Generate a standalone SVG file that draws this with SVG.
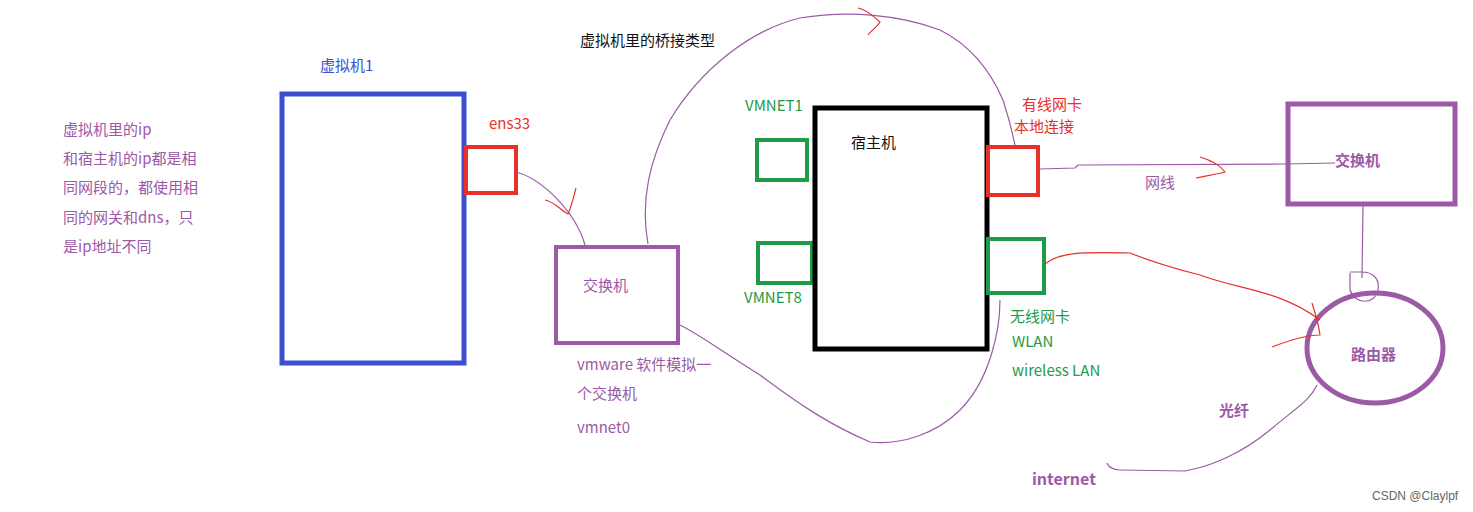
<svg xmlns="http://www.w3.org/2000/svg" width="1473" height="512" viewBox="0 0 1473 512">
<style>
text{font-family:"Noto Sans CJK SC","Noto Sans",sans-serif;font-size:15px}
.p{fill:#9b59a6}.r{fill:#e8302a}.g{fill:#1f9a46}.k{fill:#111}
.pl{fill:none;stroke:#9b59a6;stroke-width:1.2}
.rl{fill:none;stroke:#e8302a;stroke-width:1.2}
</style>
<rect width="1473" height="512" fill="#fff"/>
<text x="63" y="135" class="p">虚拟机里的ip</text>
<text x="63" y="164" class="p">和宿主机的ip都是相</text>
<text x="63" y="193" class="p">同网段的，都使用相</text>
<text x="63" y="223" class="p">同的网关和dns，只</text>
<text x="63" y="252" class="p">是ip地址不同</text>
<text x="320" y="71" style="fill:#3b4fd0">虚拟机1</text>
<text x="580" y="46" class="k">虚拟机里的桥接类型</text>
<g id="vm1"><rect x="282" y="94" width="182" height="269" fill="none" stroke="#3b4fd0" stroke-width="5"/></g>
<g id="ens33"><rect x="466" y="147" width="50" height="46" fill="none" stroke="#e8302a" stroke-width="4"/><text x="489" y="129" class="r">ens33</text></g>
<g id="vswitch"><rect x="556" y="247" width="122" height="96" fill="none" stroke="#9b59a6" stroke-width="4"/><text x="583" y="291" class="p">交换机</text>
<text x="577" y="370" class="p">vmware 软件模拟一</text><text x="577" y="399" class="p">个交换机</text><text x="577" y="433" class="p">vmnet0</text></g>
<g id="vmnet1"><rect x="757" y="140" width="50" height="40" fill="none" stroke="#1f9a46" stroke-width="4"/><text x="745" y="111" class="g">VMNET1</text></g>
<g id="vmnet8"><rect x="758" y="243" width="54" height="40" fill="none" stroke="#1f9a46" stroke-width="4"/><text x="744" y="303" class="g">VMNET8</text></g>
<g id="host"><rect x="815" y="108" width="172" height="241" fill="none" stroke="#000" stroke-width="5"/><text x="851" y="148" class="k">宿主机</text></g>
<g id="wired"><rect x="988" y="147" width="50" height="48" fill="none" stroke="#e8302a" stroke-width="4"/><text x="1022" y="110" class="r">有线网卡</text><text x="1014" y="132" class="r">本地连接</text></g>
<g id="wireless"><rect x="988" y="239" width="56" height="54" fill="none" stroke="#1f9a46" stroke-width="4"/><text x="1010" y="322" class="g">无线网卡</text><text x="1012" y="347" class="g">WLAN</text><text x="1012" y="376" class="g">wireless LAN</text></g>
<g id="switch"><rect x="1288" y="104" width="167" height="100" fill="none" stroke="#9b59a6" stroke-width="5"/><text x="1335" y="166" class="p" style="font-weight:bold">交换机</text></g>
<g id="router"><ellipse cx="1375" cy="348" rx="68" ry="55" fill="none" stroke="#9b59a6" stroke-width="5"/><text x="1351" y="360" class="p" style="font-weight:bold">路由器</text></g>
<text x="1145" y="188" class="p">网线</text>
<text x="1219" y="416" class="p" style="font-weight:bold">光纤</text>
<text x="1032" y="485" class="p" style="font-weight:bold;font-size:16px">internet</text>
<text x="1372" y="500" style="fill:#666;font-size:12px;font-family:'Liberation Sans',sans-serif">CSDN @Claylpf</text>
<g id="connectors">
<path class="pl" d="M516,172 C540,178 575,210 585,245"/>
<path class="rl" d="M545,200 C555,202 560,210 568,214 C572,205 574,195 576,188"/>
<path class="pl" d="M648,244 C640,200 650,160 670,120 C700,70 750,30 800,18 C850,10 900,15 940,30 C970,45 990,70 1003,100 C1008,115 1012,130 1015,145"/>
<path class="rl" d="M858,8 C868,10 875,18 880,22 C876,28 870,32 868,35"/>
<path class="pl" d="M1000,300 C1000,330 990,380 960,410 C935,435 900,445 870,442 C830,425 800,405 760,375 C720,350 700,335 680,325"/>
<path class="pl" d="M1040,169 L1075,168 L1078,165 L1285,164 L1335,163"/>
<path class="rl" d="M1200,157 C1210,160 1220,165 1225,172 C1218,174 1205,176 1196,178"/>
<path class="pl" d="M1363,206 L1362,278 M1350,273 L1350,290 C1355,305 1375,305 1378,290 C1380,278 1372,272 1362,272 L1350,272"/>
<path class="rl" d="M1045,264 C1060,252 1080,252 1130,253 C1160,265 1180,270 1200,275 C1240,290 1280,290 1320,320 M1312,303 C1314,310 1318,320 1320,335 C1305,335 1290,340 1272,347"/>
<path class="pl" d="M1317,385 C1310,400 1300,405 1270,430 C1240,455 1210,465 1198,468 L1185,471 L1120,470 C1112,470 1108,466 1107,463"/>
</g>
</svg>
